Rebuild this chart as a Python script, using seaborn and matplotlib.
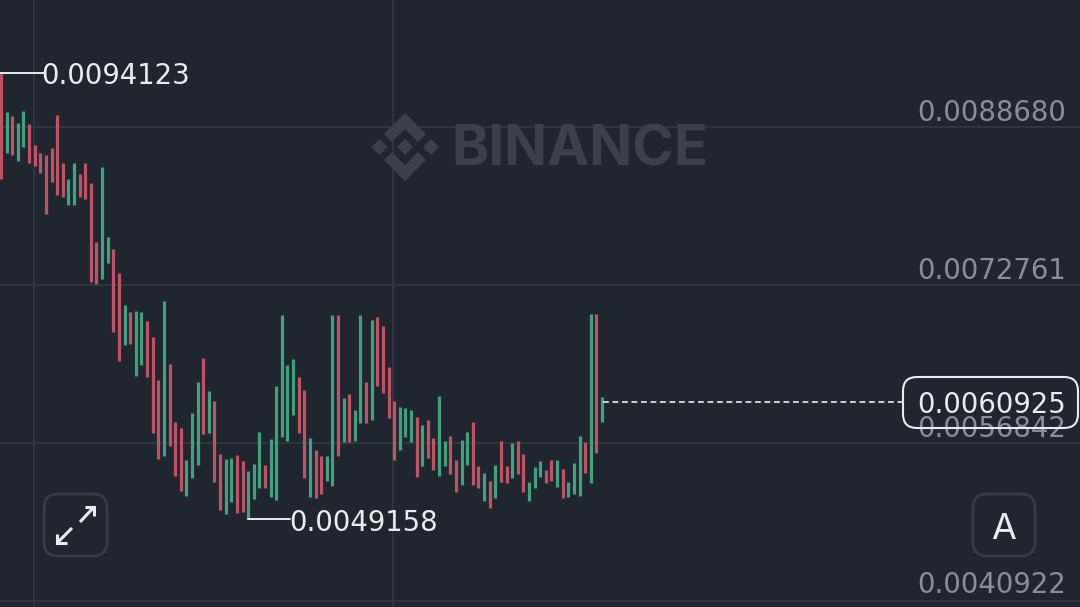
import numpy as np
import pandas as pd
import matplotlib
matplotlib.use("Agg")
import matplotlib.pyplot as plt
import seaborn as sns
from matplotlib.patches import FancyBboxPatch, Polygon

# prices in units of 1e-4, one entry per bar
high_e4 = [
    94.12, 90.19, 89.79, 89.08, 90.29, 88.98, 86.87, 86.06, 85.86, 86.56,
    89.89, 85.05, 83.44, 85.05, 83.94, 85.05, 83.04, 77.09, 84.65, 77.60,
    76.39, 73.97, 70.75, 70.04, 70.14, 70.04, 69.13, 67.52, 63.19, 71.15,
    64.80, 58.96, 58.35, 55.13, 59.86, 62.99, 65.41, 62.08, 61.07, 55.74,
    55.23, 55.33, 55.64, 55.03, 54.02, 54.73, 57.95, 54.63, 57.25, 62.59,
    69.74, 64.70, 65.31, 63.49, 62.18, 57.35, 56.14, 55.53, 55.53, 69.74,
    69.74, 61.37, 61.78, 60.17, 69.74, 62.99, 69.23, 69.54, 68.63, 64.50,
    61.07, 60.47, 60.37, 60.17, 59.46, 58.66, 59.16, 57.35, 61.58, 57.05,
    57.55, 55.13, 57.15, 57.95, 58.96, 54.52, 53.82, 53.01, 54.63, 57.05,
    54.52, 56.84, 57.05, 55.74, 52.91, 54.42, 55.03, 54.12, 55.13, 55.13,
    54.22, 52.91, 54.83, 57.55, 56.95, 69.84, 69.84, 61.48,
]
low_e4 = [
    83.44, 86.06, 85.86, 85.25, 86.66, 85.05, 84.75, 84.05, 79.91, 83.14,
    81.83, 81.63, 80.82, 80.82, 81.63, 81.43, 73.06, 72.86, 73.37, 74.98,
    68.02, 65.10, 66.72, 66.82, 63.59, 64.70, 63.49, 57.85, 55.23, 55.53,
    56.54, 53.52, 52.01, 51.50, 53.32, 54.63, 57.75, 57.85, 52.91, 50.09,
    49.69, 50.90, 49.79, 49.89, 49.158, 51.20, 52.31, 52.31, 51.40, 51.10,
    57.45, 57.05, 59.66, 57.85, 53.32, 51.40, 51.30, 51.70, 53.01, 52.51,
    55.53, 56.95, 56.95, 57.05, 58.86, 58.86, 59.16, 62.59, 61.88, 59.36,
    55.13, 56.14, 57.45, 56.95, 53.42, 54.52, 55.33, 54.12, 53.52, 54.52,
    53.72, 51.91, 52.61, 54.63, 52.61, 52.31, 51.00, 50.29, 51.30, 52.91,
    52.81, 53.32, 53.72, 51.91, 51.00, 52.31, 53.42, 52.81, 53.01, 52.41,
    51.30, 51.40, 51.70, 51.50, 53.82, 52.81, 55.84, 58.96,
]
# g = up bar, r = down bar
direction = list(
    "rgrggrrrrr" "rrggrrrrgg" "rrgrggrrrg" "rrrgggrgrr" "ggrrgggrgg"
    "gggrrgrrgg" "rgrggrgrrr" "rgggrgrrgg" "rrggrrgrgr" "rgrrgggrrg"
    "rgggrgrg"
)

axis_prices = [0.0088680, 0.0072761, 0.0056842, 0.0040922]
axis_labels = ["0.0088680", "0.0072761", "0.0056842", "0.0040922"]
grid_bars = [5.875, 69.79]
last_price = 0.0060925
max_price = 0.0094123
min_price = 0.0049158

BG = "#1f2630"
GRID = "#2e3540"
GREEN = "#41a07d"
RED = "#bf5263"
WHITE = "#e9ebee"
GREY = "#888e98"
EDGE = "#353c47"
MARK = "#3a414c"

sns.set_theme(style="dark")
plt.rcParams["font.family"] = ["DejaVu Sans"]

rows = []
for i, (hi, lo, d) in enumerate(zip(high_e4, low_e4, direction)):
    rows.append({"bar": i, "price": hi * 1e-4, "dir": d})
    rows.append({"bar": i, "price": lo * 1e-4, "dir": d})
df = pd.DataFrame(rows)

fig = plt.figure(figsize=(10.8, 6.07), dpi=100, facecolor=BG)
ax = fig.add_axes([0, 0, 1, 1], facecolor=BG)


def px(x, y):
    return (x / 1080, 1 - y / 607)


def poly(points, **kw):
    ax.add_patch(Polygon([px(*p) for p in points], closed=True, transform=fig.transFigure, **kw))


def rbox(x0, y0, x1, y1, r, color, lw=1.5):
    ax.add_patch(FancyBboxPatch(px(x0, y1), (x1 - x0) / 1080, (y1 - y0) / 607,
                                boxstyle=f"round,pad=0,rounding_size={r / 1080}",
                                mutation_aspect=1080 / 607, transform=fig.transFigure,
                                fc="none", ec=color, lw=lw, zorder=6))


def seg(points, color=WHITE, lw=2.2):
    xs, ys = zip(*[px(*p) for p in points])
    ax.plot(xs, ys, transform=fig.transFigure, color=color, lw=lw, zorder=7,
            solid_capstyle="butt", solid_joinstyle="miter")


# grid
ax.set_xlim(-0.178, 192.1)
ax.set_ylim(40.32e-4, 101.475e-4)
for p in axis_prices:
    ax.axhline(p, color=GRID, lw=1.5, zorder=0)
for b in grid_bars:
    ax.axvline(b, color=GRID, lw=1.5, zorder=0)

# watermark
for cx, cy in [(379.5, 147), (405, 147), (431, 147)]:
    poly([(cx - 8, cy), (cx, cy - 8), (cx + 8, cy), (cx, cy + 8)], fc=MARK, ec="none", zorder=1)
poly([(405, 113), (426, 134), (418, 142), (405, 129), (392, 142), (384, 134)], fc=MARK, ec="none", zorder=1)
poly([(405, 181), (426, 160), (418, 152), (405, 165), (392, 152), (384, 160)], fc=MARK, ec="none", zorder=1)
fig.text(*px(451, 165.5), "BINANCE", color=MARK, fontsize=40.5, fontweight="bold", family="Inter",
         ha="left", va="baseline", zorder=1)

# the bars
sns.lineplot(data=df, x="bar", y="price", hue="dir", units="bar", estimator=None,
             palette={"g": GREEN, "r": RED}, lw=2.3, legend=False, ax=ax,
             solid_capstyle="butt", zorder=3)
ax.set_xlim(-0.178, 192.1)
ax.set_ylim(40.32e-4, 101.475e-4)
ax.set_axis_off()

# axis prices
for p, lab, off in zip(axis_prices, axis_labels, [6, 6, 6, 8]):
    ax.annotate(lab, xy=(1, p), xycoords=ax.get_yaxis_transform(), xytext=(-14, off),
                textcoords="offset pixels", ha="right", va="baseline", color=GREY, fontsize=19.8, zorder=4)

# high and low
ax.plot([-0.178, 7.6], [max_price, max_price], color=WHITE, lw=1.4, zorder=5)
ax.annotate("0.0094123", xy=(7.6, max_price), xytext=(-2, -11), textcoords="offset pixels",
            ha="left", va="baseline", color=WHITE, fontsize=19.8, zorder=5)
ax.plot([44, 51.5], [min_price, min_price], color=WHITE, lw=1.4, zorder=5)
ax.annotate("0.0049158", xy=(51.5, min_price), xytext=(-1, -12), textcoords="offset pixels",
            ha="left", va="baseline", color=WHITE, fontsize=19.8, zorder=5)

# last price
ax.plot([107.2, 160.6], [last_price, last_price], color=WHITE, lw=1.2, ls=(0, (3.5, 2.2)), zorder=5)
rbox(903, 377, 1078, 428, 14, WHITE)
ax.annotate("0.0060925", xy=(1, last_price), xycoords=ax.get_yaxis_transform(), xytext=(-14, -11),
            textcoords="offset pixels", ha="right", va="baseline", color=WHITE, fontsize=19.8, zorder=7)

# buttons
rbox(44, 494, 107, 556, 14, EDGE, lw=2)
rbox(973, 494, 1035, 556, 14, EDGE, lw=2)
fig.text(*px(1004, 539), "A", color=WHITE, fontsize=26, family="Inter", ha="center", va="baseline", zorder=7)
seg([(80, 522), (94, 507)])
seg([(85, 507), (94, 507), (94, 516)])
seg([(72, 528), (58, 542)])
seg([(57, 534), (57, 543), (67, 543)])

fig.savefig("out.png", dpi=100, facecolor=BG)
print(len(high_e4), len(low_e4), len(direction))
